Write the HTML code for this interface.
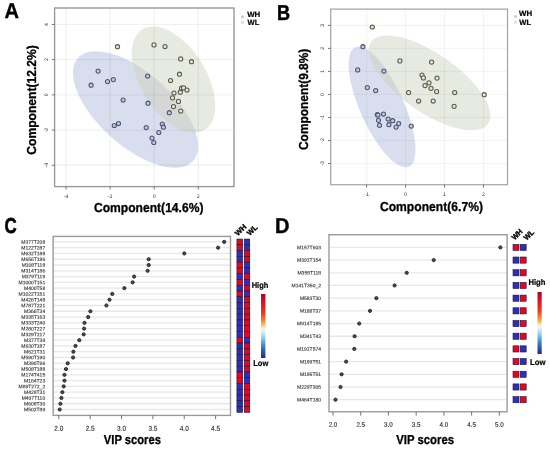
<!DOCTYPE html>
<html><head><meta charset="utf-8"><style>
html,body{margin:0;padding:0;background:#fff;}
body{width:550px;height:449px;overflow:hidden;}
svg{display:block;will-change:transform;filter:blur(0.3px);text-rendering:geometricPrecision;font-family:"Liberation Sans", sans-serif;}
</style></head><body>
<svg width="550" height="449" viewBox="0 0 550 449">
<rect width="550" height="449" fill="#fff"/>
<text transform="translate(4.4 17.9) scale(0.93 1)" font-size="21.6" font-weight="bold" fill="#000" stroke="#000" stroke-width="0.35">A</text>
<text transform="translate(276.9 19.9) scale(0.84 1)" font-size="21.6" font-weight="bold" fill="#000" stroke="#000" stroke-width="0.5">B</text>
<text transform="translate(4.5 232.7) scale(0.78 1)" font-size="21.6" font-weight="bold" fill="#000" stroke="#000" stroke-width="0.75">C</text>
<text transform="translate(275.0 232.7) scale(0.93 1)" font-size="21.6" font-weight="bold" fill="#000" stroke="#000" stroke-width="0.4">D</text>
<clipPath id="clip54"><ellipse cx="135.49" cy="109.49" rx="77.19" ry="36.74" transform="rotate(41.77 135.49 109.49)"/></clipPath>
<ellipse cx="135.49" cy="109.49" rx="77.19" ry="36.74" transform="rotate(41.77 135.49 109.49)" fill="rgb(217,222,239)"/>
<ellipse cx="173.45" cy="79.69" rx="59.1" ry="32.97" transform="rotate(58.49 173.45 79.69)" fill="rgb(231,234,225)"/>
<g clip-path="url(#clip54)"><ellipse cx="173.45" cy="79.69" rx="59.1" ry="32.97" transform="rotate(58.49 173.45 79.69)" fill="rgb(212,215,214)"/></g>
<line x1="66.08" y1="8.0" x2="66.08" y2="186.6" stroke="rgba(0,0,0,0.05)" stroke-width="1.3"/>
<line x1="110.14" y1="8.0" x2="110.14" y2="186.6" stroke="rgba(0,0,0,0.05)" stroke-width="1.3"/>
<line x1="154.20" y1="8.0" x2="154.20" y2="186.6" stroke="rgba(0,0,0,0.05)" stroke-width="1.3"/>
<line x1="198.26" y1="8.0" x2="198.26" y2="186.6" stroke="rgba(0,0,0,0.05)" stroke-width="1.3"/>
<line x1="54.6" y1="24.45" x2="234.0" y2="24.45" stroke="rgba(0,0,0,0.05)" stroke-width="1.3"/>
<line x1="54.6" y1="59.65" x2="234.0" y2="59.65" stroke="rgba(0,0,0,0.05)" stroke-width="1.3"/>
<line x1="54.6" y1="94.85" x2="234.0" y2="94.85" stroke="rgba(0,0,0,0.05)" stroke-width="1.3"/>
<line x1="54.6" y1="130.05" x2="234.0" y2="130.05" stroke="rgba(0,0,0,0.05)" stroke-width="1.3"/>
<line x1="54.6" y1="165.25" x2="234.0" y2="165.25" stroke="rgba(0,0,0,0.05)" stroke-width="1.3"/>
<circle cx="98.1" cy="71.1" r="3.0" fill="#fff" fill-opacity="0.35" filter="url(#soft)"/>
<circle cx="91.1" cy="85.2" r="3.0" fill="#fff" fill-opacity="0.35" filter="url(#soft)"/>
<circle cx="107.5" cy="81.6" r="3.0" fill="#fff" fill-opacity="0.35" filter="url(#soft)"/>
<circle cx="113.3" cy="79.6" r="3.0" fill="#fff" fill-opacity="0.35" filter="url(#soft)"/>
<circle cx="123.1" cy="100.0" r="3.0" fill="#fff" fill-opacity="0.35" filter="url(#soft)"/>
<circle cx="114.3" cy="125.5" r="3.0" fill="#fff" fill-opacity="0.35" filter="url(#soft)"/>
<circle cx="118.5" cy="123.5" r="3.0" fill="#fff" fill-opacity="0.35" filter="url(#soft)"/>
<circle cx="147.6" cy="76.1" r="3.0" fill="#fff" fill-opacity="0.35" filter="url(#soft)"/>
<circle cx="148.0" cy="103.2" r="3.0" fill="#fff" fill-opacity="0.35" filter="url(#soft)"/>
<circle cx="169.3" cy="112.7" r="3.0" fill="#fff" fill-opacity="0.35" filter="url(#soft)"/>
<circle cx="146.2" cy="127.5" r="3.0" fill="#fff" fill-opacity="0.35" filter="url(#soft)"/>
<circle cx="162.3" cy="124.0" r="3.0" fill="#fff" fill-opacity="0.35" filter="url(#soft)"/>
<circle cx="163.4" cy="127.2" r="3.0" fill="#fff" fill-opacity="0.35" filter="url(#soft)"/>
<circle cx="158.8" cy="132.5" r="3.0" fill="#fff" fill-opacity="0.35" filter="url(#soft)"/>
<circle cx="152.0" cy="138.1" r="3.0" fill="#fff" fill-opacity="0.35" filter="url(#soft)"/>
<circle cx="153.8" cy="142.5" r="3.0" fill="#fff" fill-opacity="0.35" filter="url(#soft)"/>
<circle cx="117.5" cy="46.7" r="3.0" fill="#fff" fill-opacity="0.35" filter="url(#soft)"/>
<circle cx="154.0" cy="44.9" r="3.0" fill="#fff" fill-opacity="0.35" filter="url(#soft)"/>
<circle cx="165.0" cy="46.5" r="3.0" fill="#fff" fill-opacity="0.35" filter="url(#soft)"/>
<circle cx="180.7" cy="58.9" r="3.0" fill="#fff" fill-opacity="0.35" filter="url(#soft)"/>
<circle cx="191.5" cy="61.7" r="3.0" fill="#fff" fill-opacity="0.35" filter="url(#soft)"/>
<circle cx="179.5" cy="74.2" r="3.0" fill="#fff" fill-opacity="0.35" filter="url(#soft)"/>
<circle cx="170.6" cy="80.5" r="3.0" fill="#fff" fill-opacity="0.35" filter="url(#soft)"/>
<circle cx="181.5" cy="88.2" r="3.0" fill="#fff" fill-opacity="0.35" filter="url(#soft)"/>
<circle cx="183.6" cy="87.9" r="3.0" fill="#fff" fill-opacity="0.35" filter="url(#soft)"/>
<circle cx="187.0" cy="90.0" r="3.0" fill="#fff" fill-opacity="0.35" filter="url(#soft)"/>
<circle cx="180.3" cy="92.2" r="3.0" fill="#fff" fill-opacity="0.35" filter="url(#soft)"/>
<circle cx="174.0" cy="93.0" r="3.0" fill="#fff" fill-opacity="0.35" filter="url(#soft)"/>
<circle cx="172.5" cy="97.8" r="3.0" fill="#fff" fill-opacity="0.35" filter="url(#soft)"/>
<circle cx="178.5" cy="101.4" r="3.0" fill="#fff" fill-opacity="0.35" filter="url(#soft)"/>
<circle cx="173.5" cy="106.6" r="3.0" fill="#fff" fill-opacity="0.35" filter="url(#soft)"/>
<circle cx="180.7" cy="111.0" r="3.0" fill="#fff" fill-opacity="0.35" filter="url(#soft)"/>
<g filter="url(#soft)">
<circle cx="98.1" cy="71.1" r="2.1" fill="#c0c7e2" stroke="#4c5472" stroke-width="1.05"/>
<circle cx="91.1" cy="85.2" r="2.1" fill="#c0c7e2" stroke="#4c5472" stroke-width="1.05"/>
<circle cx="107.5" cy="81.6" r="2.1" fill="#c0c7e2" stroke="#4c5472" stroke-width="1.05"/>
<circle cx="113.3" cy="79.6" r="2.1" fill="#c0c7e2" stroke="#4c5472" stroke-width="1.05"/>
<circle cx="123.1" cy="100.0" r="2.1" fill="#c0c7e2" stroke="#4c5472" stroke-width="1.05"/>
<circle cx="114.3" cy="125.5" r="2.1" fill="#c0c7e2" stroke="#4c5472" stroke-width="1.05"/>
<circle cx="118.5" cy="123.5" r="2.1" fill="#c0c7e2" stroke="#4c5472" stroke-width="1.05"/>
<circle cx="147.6" cy="76.1" r="2.1" fill="#c0c7e2" stroke="#4c5472" stroke-width="1.05"/>
<circle cx="148.0" cy="103.2" r="2.1" fill="#c0c7e2" stroke="#4c5472" stroke-width="1.05"/>
<circle cx="169.3" cy="112.7" r="2.1" fill="#c0c7e2" stroke="#4c5472" stroke-width="1.05"/>
<circle cx="146.2" cy="127.5" r="2.1" fill="#c0c7e2" stroke="#4c5472" stroke-width="1.05"/>
<circle cx="162.3" cy="124.0" r="2.1" fill="#c0c7e2" stroke="#4c5472" stroke-width="1.05"/>
<circle cx="163.4" cy="127.2" r="2.1" fill="#c0c7e2" stroke="#4c5472" stroke-width="1.05"/>
<circle cx="158.8" cy="132.5" r="2.1" fill="#c0c7e2" stroke="#4c5472" stroke-width="1.05"/>
<circle cx="152.0" cy="138.1" r="2.1" fill="#c0c7e2" stroke="#4c5472" stroke-width="1.05"/>
<circle cx="153.8" cy="142.5" r="2.1" fill="#c0c7e2" stroke="#4c5472" stroke-width="1.05"/>
<circle cx="117.5" cy="46.7" r="2.1" fill="#e4e7d6" stroke="#5a5a46" stroke-width="1.05"/>
<circle cx="154.0" cy="44.9" r="2.1" fill="#e4e7d6" stroke="#5a5a46" stroke-width="1.05"/>
<circle cx="165.0" cy="46.5" r="2.1" fill="#e4e7d6" stroke="#5a5a46" stroke-width="1.05"/>
<circle cx="180.7" cy="58.9" r="2.1" fill="#e4e7d6" stroke="#5a5a46" stroke-width="1.05"/>
<circle cx="191.5" cy="61.7" r="2.1" fill="#e4e7d6" stroke="#5a5a46" stroke-width="1.05"/>
<circle cx="179.5" cy="74.2" r="2.1" fill="#e4e7d6" stroke="#5a5a46" stroke-width="1.05"/>
<circle cx="170.6" cy="80.5" r="2.1" fill="#e4e7d6" stroke="#5a5a46" stroke-width="1.05"/>
<circle cx="181.5" cy="88.2" r="2.1" fill="#e4e7d6" stroke="#5a5a46" stroke-width="1.05"/>
<circle cx="183.6" cy="87.9" r="2.1" fill="#e4e7d6" stroke="#5a5a46" stroke-width="1.05"/>
<circle cx="187.0" cy="90.0" r="2.1" fill="#e4e7d6" stroke="#5a5a46" stroke-width="1.05"/>
<circle cx="180.3" cy="92.2" r="2.1" fill="#e4e7d6" stroke="#5a5a46" stroke-width="1.05"/>
<circle cx="174.0" cy="93.0" r="2.1" fill="#e4e7d6" stroke="#5a5a46" stroke-width="1.05"/>
<circle cx="172.5" cy="97.8" r="2.1" fill="#e4e7d6" stroke="#5a5a46" stroke-width="1.05"/>
<circle cx="178.5" cy="101.4" r="2.1" fill="#e4e7d6" stroke="#5a5a46" stroke-width="1.05"/>
<circle cx="173.5" cy="106.6" r="2.1" fill="#e4e7d6" stroke="#5a5a46" stroke-width="1.05"/>
<circle cx="180.7" cy="111.0" r="2.1" fill="#e4e7d6" stroke="#5a5a46" stroke-width="1.05"/>
</g>
<rect x="54.6" y="8.0" width="179.40" height="178.60" fill="none" stroke="#999" stroke-width="1.4"/>
<line x1="66.08" y1="186.6" x2="66.08" y2="189.6" stroke="#555" stroke-width="0.8"/>
<text x="66.08" y="197.70" font-size="5.2" font-weight="normal" text-anchor="middle" fill="#333">-4</text>
<line x1="110.14" y1="186.6" x2="110.14" y2="189.6" stroke="#555" stroke-width="0.8"/>
<text x="110.14" y="197.70" font-size="5.2" font-weight="normal" text-anchor="middle" fill="#333">-2</text>
<line x1="154.20" y1="186.6" x2="154.20" y2="189.6" stroke="#555" stroke-width="0.8"/>
<text x="154.20" y="197.70" font-size="5.2" font-weight="normal" text-anchor="middle" fill="#333">0</text>
<line x1="198.26" y1="186.6" x2="198.26" y2="189.6" stroke="#555" stroke-width="0.8"/>
<text x="198.26" y="197.70" font-size="5.2" font-weight="normal" text-anchor="middle" fill="#333">2</text>
<line x1="51.9" y1="24.45" x2="54.6" y2="24.45" stroke="#555" stroke-width="0.8"/>
<text x="48.40" y="24.45" font-size="5.2" font-weight="normal" text-anchor="middle" fill="#333" transform="rotate(-90 48.40 24.45)">4</text>
<line x1="51.9" y1="59.65" x2="54.6" y2="59.65" stroke="#555" stroke-width="0.8"/>
<text x="48.40" y="59.65" font-size="5.2" font-weight="normal" text-anchor="middle" fill="#333" transform="rotate(-90 48.40 59.65)">2</text>
<line x1="51.9" y1="94.85" x2="54.6" y2="94.85" stroke="#555" stroke-width="0.8"/>
<text x="48.40" y="94.85" font-size="5.2" font-weight="normal" text-anchor="middle" fill="#333" transform="rotate(-90 48.40 94.85)">0</text>
<line x1="51.9" y1="130.05" x2="54.6" y2="130.05" stroke="#555" stroke-width="0.8"/>
<text x="48.40" y="130.05" font-size="5.2" font-weight="normal" text-anchor="middle" fill="#333" transform="rotate(-90 48.40 130.05)">-2</text>
<line x1="51.9" y1="165.25" x2="54.6" y2="165.25" stroke="#555" stroke-width="0.8"/>
<text x="48.40" y="165.25" font-size="5.2" font-weight="normal" text-anchor="middle" fill="#333" transform="rotate(-90 48.40 165.25)">-4</text>
<circle cx="242.5" cy="16.8" r="1.5" fill="#bccde2"/>
<circle cx="242.5" cy="22.5" r="1.3" fill="#eeeee0" stroke="#cdcdae" stroke-width="0.6"/>
<text x="247.20" y="16.60" font-size="7.6" font-weight="bold" text-anchor="start" fill="#000" textLength="13.10" lengthAdjust="spacingAndGlyphs" stroke="#000" stroke-width="0.2">WH</text>
<text x="247.50" y="24.70" font-size="7.6" font-weight="bold" text-anchor="start" fill="#000" textLength="11.80" lengthAdjust="spacingAndGlyphs" stroke="#000" stroke-width="0.2">WL</text>
<text x="93.90" y="212.10" font-size="13.0" font-weight="bold" text-anchor="start" fill="#000" textLength="109.60" lengthAdjust="spacingAndGlyphs" stroke="#000" stroke-width="0.3">Component(14.6%)</text>
<text x="36.50" y="154.70" font-size="13.0" font-weight="bold" text-anchor="start" fill="#000" textLength="109.50" lengthAdjust="spacingAndGlyphs" transform="rotate(-90 36.50 154.70)" stroke="#000" stroke-width="0.3">Component(12.2%)</text>
<clipPath id="clip330"><ellipse cx="382.04" cy="106.93" rx="65.51" ry="21.95" transform="rotate(65.87 382.04 106.93)"/></clipPath>
<ellipse cx="382.04" cy="106.93" rx="65.51" ry="21.95" transform="rotate(65.87 382.04 106.93)" fill="rgb(217,222,239)"/>
<ellipse cx="429.46" cy="82.93" rx="71.47" ry="29.23" transform="rotate(34.94 429.46 82.93)" fill="rgb(231,234,225)"/>
<g clip-path="url(#clip330)"><ellipse cx="429.46" cy="82.93" rx="71.47" ry="29.23" transform="rotate(34.94 429.46 82.93)" fill="rgb(212,215,214)"/></g>
<line x1="366.58" y1="9.1" x2="366.58" y2="184.7" stroke="rgba(0,0,0,0.04)" stroke-width="1.3"/>
<line x1="405.55" y1="9.1" x2="405.55" y2="184.7" stroke="rgba(0,0,0,0.04)" stroke-width="1.3"/>
<line x1="444.52" y1="9.1" x2="444.52" y2="184.7" stroke="rgba(0,0,0,0.04)" stroke-width="1.3"/>
<line x1="483.49" y1="9.1" x2="483.49" y2="184.7" stroke="rgba(0,0,0,0.04)" stroke-width="1.3"/>
<line x1="330.7" y1="25.39" x2="507.5" y2="25.39" stroke="rgba(0,0,0,0.04)" stroke-width="1.3"/>
<line x1="330.7" y1="48.41" x2="507.5" y2="48.41" stroke="rgba(0,0,0,0.04)" stroke-width="1.3"/>
<line x1="330.7" y1="71.43" x2="507.5" y2="71.43" stroke="rgba(0,0,0,0.04)" stroke-width="1.3"/>
<line x1="330.7" y1="94.45" x2="507.5" y2="94.45" stroke="rgba(0,0,0,0.04)" stroke-width="1.3"/>
<line x1="330.7" y1="117.47" x2="507.5" y2="117.47" stroke="rgba(0,0,0,0.04)" stroke-width="1.3"/>
<line x1="330.7" y1="140.49" x2="507.5" y2="140.49" stroke="rgba(0,0,0,0.04)" stroke-width="1.3"/>
<line x1="330.7" y1="163.51" x2="507.5" y2="163.51" stroke="rgba(0,0,0,0.04)" stroke-width="1.3"/>
<circle cx="362.9" cy="46.7" r="3.0" fill="#fff" fill-opacity="0.35" filter="url(#soft)"/>
<circle cx="357.7" cy="69.9" r="3.0" fill="#fff" fill-opacity="0.35" filter="url(#soft)"/>
<circle cx="383.9" cy="71.1" r="3.0" fill="#fff" fill-opacity="0.35" filter="url(#soft)"/>
<circle cx="367.3" cy="87.6" r="3.0" fill="#fff" fill-opacity="0.35" filter="url(#soft)"/>
<circle cx="375.7" cy="90.6" r="3.0" fill="#fff" fill-opacity="0.35" filter="url(#soft)"/>
<circle cx="377.3" cy="114.6" r="3.0" fill="#fff" fill-opacity="0.35" filter="url(#soft)"/>
<circle cx="377.9" cy="115.0" r="3.0" fill="#fff" fill-opacity="0.35" filter="url(#soft)"/>
<circle cx="383.5" cy="114.0" r="3.0" fill="#fff" fill-opacity="0.35" filter="url(#soft)"/>
<circle cx="378.5" cy="120.3" r="3.0" fill="#fff" fill-opacity="0.35" filter="url(#soft)"/>
<circle cx="388.1" cy="119.0" r="3.0" fill="#fff" fill-opacity="0.35" filter="url(#soft)"/>
<circle cx="392.7" cy="120.7" r="3.0" fill="#fff" fill-opacity="0.35" filter="url(#soft)"/>
<circle cx="379.5" cy="125.3" r="3.0" fill="#fff" fill-opacity="0.35" filter="url(#soft)"/>
<circle cx="388.9" cy="124.7" r="3.0" fill="#fff" fill-opacity="0.35" filter="url(#soft)"/>
<circle cx="398.7" cy="123.5" r="3.0" fill="#fff" fill-opacity="0.35" filter="url(#soft)"/>
<circle cx="396.1" cy="127.1" r="3.0" fill="#fff" fill-opacity="0.35" filter="url(#soft)"/>
<circle cx="411.2" cy="126.1" r="3.0" fill="#fff" fill-opacity="0.35" filter="url(#soft)"/>
<circle cx="372.3" cy="27.0" r="3.0" fill="#fff" fill-opacity="0.35" filter="url(#soft)"/>
<circle cx="399.9" cy="60.9" r="3.0" fill="#fff" fill-opacity="0.35" filter="url(#soft)"/>
<circle cx="431.6" cy="62.1" r="3.0" fill="#fff" fill-opacity="0.35" filter="url(#soft)"/>
<circle cx="422.0" cy="75.1" r="3.0" fill="#fff" fill-opacity="0.35" filter="url(#soft)"/>
<circle cx="423.4" cy="77.9" r="3.0" fill="#fff" fill-opacity="0.35" filter="url(#soft)"/>
<circle cx="437.0" cy="78.1" r="3.0" fill="#fff" fill-opacity="0.35" filter="url(#soft)"/>
<circle cx="429.0" cy="82.8" r="3.0" fill="#fff" fill-opacity="0.35" filter="url(#soft)"/>
<circle cx="425.0" cy="85.6" r="3.0" fill="#fff" fill-opacity="0.35" filter="url(#soft)"/>
<circle cx="431.0" cy="88.3" r="3.0" fill="#fff" fill-opacity="0.35" filter="url(#soft)"/>
<circle cx="436.6" cy="91.6" r="3.0" fill="#fff" fill-opacity="0.35" filter="url(#soft)"/>
<circle cx="408.6" cy="92.6" r="3.0" fill="#fff" fill-opacity="0.35" filter="url(#soft)"/>
<circle cx="454.7" cy="92.6" r="3.0" fill="#fff" fill-opacity="0.35" filter="url(#soft)"/>
<circle cx="484.2" cy="94.7" r="3.0" fill="#fff" fill-opacity="0.35" filter="url(#soft)"/>
<circle cx="418.6" cy="101.0" r="3.0" fill="#fff" fill-opacity="0.35" filter="url(#soft)"/>
<circle cx="433.2" cy="101.0" r="3.0" fill="#fff" fill-opacity="0.35" filter="url(#soft)"/>
<circle cx="454.1" cy="106.3" r="3.0" fill="#fff" fill-opacity="0.35" filter="url(#soft)"/>
<g filter="url(#soft)">
<circle cx="362.9" cy="46.7" r="2.1" fill="#c0c7e2" stroke="#4c5472" stroke-width="1.05"/>
<circle cx="357.7" cy="69.9" r="2.1" fill="#c0c7e2" stroke="#4c5472" stroke-width="1.05"/>
<circle cx="383.9" cy="71.1" r="2.1" fill="#c0c7e2" stroke="#4c5472" stroke-width="1.05"/>
<circle cx="367.3" cy="87.6" r="2.1" fill="#c0c7e2" stroke="#4c5472" stroke-width="1.05"/>
<circle cx="375.7" cy="90.6" r="2.1" fill="#c0c7e2" stroke="#4c5472" stroke-width="1.05"/>
<circle cx="377.3" cy="114.6" r="2.1" fill="#c0c7e2" stroke="#4c5472" stroke-width="1.05"/>
<circle cx="377.9" cy="115.0" r="2.1" fill="#c0c7e2" stroke="#4c5472" stroke-width="1.05"/>
<circle cx="383.5" cy="114.0" r="2.1" fill="#c0c7e2" stroke="#4c5472" stroke-width="1.05"/>
<circle cx="378.5" cy="120.3" r="2.1" fill="#c0c7e2" stroke="#4c5472" stroke-width="1.05"/>
<circle cx="388.1" cy="119.0" r="2.1" fill="#c0c7e2" stroke="#4c5472" stroke-width="1.05"/>
<circle cx="392.7" cy="120.7" r="2.1" fill="#c0c7e2" stroke="#4c5472" stroke-width="1.05"/>
<circle cx="379.5" cy="125.3" r="2.1" fill="#c0c7e2" stroke="#4c5472" stroke-width="1.05"/>
<circle cx="388.9" cy="124.7" r="2.1" fill="#c0c7e2" stroke="#4c5472" stroke-width="1.05"/>
<circle cx="398.7" cy="123.5" r="2.1" fill="#c0c7e2" stroke="#4c5472" stroke-width="1.05"/>
<circle cx="396.1" cy="127.1" r="2.1" fill="#c0c7e2" stroke="#4c5472" stroke-width="1.05"/>
<circle cx="411.2" cy="126.1" r="2.1" fill="#c0c7e2" stroke="#4c5472" stroke-width="1.05"/>
<circle cx="372.3" cy="27.0" r="2.1" fill="#e4e7d6" stroke="#5a5a46" stroke-width="1.05"/>
<circle cx="399.9" cy="60.9" r="2.1" fill="#e4e7d6" stroke="#5a5a46" stroke-width="1.05"/>
<circle cx="431.6" cy="62.1" r="2.1" fill="#e4e7d6" stroke="#5a5a46" stroke-width="1.05"/>
<circle cx="422.0" cy="75.1" r="2.1" fill="#e4e7d6" stroke="#5a5a46" stroke-width="1.05"/>
<circle cx="423.4" cy="77.9" r="2.1" fill="#e4e7d6" stroke="#5a5a46" stroke-width="1.05"/>
<circle cx="437.0" cy="78.1" r="2.1" fill="#e4e7d6" stroke="#5a5a46" stroke-width="1.05"/>
<circle cx="429.0" cy="82.8" r="2.1" fill="#e4e7d6" stroke="#5a5a46" stroke-width="1.05"/>
<circle cx="425.0" cy="85.6" r="2.1" fill="#e4e7d6" stroke="#5a5a46" stroke-width="1.05"/>
<circle cx="431.0" cy="88.3" r="2.1" fill="#e4e7d6" stroke="#5a5a46" stroke-width="1.05"/>
<circle cx="436.6" cy="91.6" r="2.1" fill="#e4e7d6" stroke="#5a5a46" stroke-width="1.05"/>
<circle cx="408.6" cy="92.6" r="2.1" fill="#e4e7d6" stroke="#5a5a46" stroke-width="1.05"/>
<circle cx="454.7" cy="92.6" r="2.1" fill="#e4e7d6" stroke="#5a5a46" stroke-width="1.05"/>
<circle cx="484.2" cy="94.7" r="2.1" fill="#e4e7d6" stroke="#5a5a46" stroke-width="1.05"/>
<circle cx="418.6" cy="101.0" r="2.1" fill="#e4e7d6" stroke="#5a5a46" stroke-width="1.05"/>
<circle cx="433.2" cy="101.0" r="2.1" fill="#e4e7d6" stroke="#5a5a46" stroke-width="1.05"/>
<circle cx="454.1" cy="106.3" r="2.1" fill="#e4e7d6" stroke="#5a5a46" stroke-width="1.05"/>
</g>
<rect x="330.7" y="9.1" width="176.80" height="175.60" fill="none" stroke="#a6a6a6" stroke-width="1.25"/>
<line x1="366.58" y1="184.7" x2="366.58" y2="187.7" stroke="#555" stroke-width="0.8"/>
<text x="366.58" y="195.80" font-size="5.2" font-weight="normal" text-anchor="middle" fill="#333">-1</text>
<line x1="405.55" y1="184.7" x2="405.55" y2="187.7" stroke="#555" stroke-width="0.8"/>
<text x="405.55" y="195.80" font-size="5.2" font-weight="normal" text-anchor="middle" fill="#333">0</text>
<line x1="444.52" y1="184.7" x2="444.52" y2="187.7" stroke="#555" stroke-width="0.8"/>
<text x="444.52" y="195.80" font-size="5.2" font-weight="normal" text-anchor="middle" fill="#333">1</text>
<line x1="483.49" y1="184.7" x2="483.49" y2="187.7" stroke="#555" stroke-width="0.8"/>
<text x="483.49" y="195.80" font-size="5.2" font-weight="normal" text-anchor="middle" fill="#333">2</text>
<line x1="328.0" y1="25.39" x2="330.7" y2="25.39" stroke="#555" stroke-width="0.8"/>
<text x="324.40" y="25.39" font-size="5.2" font-weight="normal" text-anchor="middle" fill="#333" transform="rotate(-90 324.40 25.39)">3</text>
<line x1="328.0" y1="48.41" x2="330.7" y2="48.41" stroke="#555" stroke-width="0.8"/>
<text x="324.40" y="48.41" font-size="5.2" font-weight="normal" text-anchor="middle" fill="#333" transform="rotate(-90 324.40 48.41)">2</text>
<line x1="328.0" y1="71.43" x2="330.7" y2="71.43" stroke="#555" stroke-width="0.8"/>
<text x="324.40" y="71.43" font-size="5.2" font-weight="normal" text-anchor="middle" fill="#333" transform="rotate(-90 324.40 71.43)">1</text>
<line x1="328.0" y1="94.45" x2="330.7" y2="94.45" stroke="#555" stroke-width="0.8"/>
<text x="324.40" y="94.45" font-size="5.2" font-weight="normal" text-anchor="middle" fill="#333" transform="rotate(-90 324.40 94.45)">0</text>
<line x1="328.0" y1="117.47" x2="330.7" y2="117.47" stroke="#555" stroke-width="0.8"/>
<text x="324.40" y="117.47" font-size="5.2" font-weight="normal" text-anchor="middle" fill="#333" transform="rotate(-90 324.40 117.47)">-1</text>
<line x1="328.0" y1="140.49" x2="330.7" y2="140.49" stroke="#555" stroke-width="0.8"/>
<text x="324.40" y="140.49" font-size="5.2" font-weight="normal" text-anchor="middle" fill="#333" transform="rotate(-90 324.40 140.49)">-2</text>
<line x1="328.0" y1="163.51" x2="330.7" y2="163.51" stroke="#555" stroke-width="0.8"/>
<text x="324.40" y="163.51" font-size="5.2" font-weight="normal" text-anchor="middle" fill="#333" transform="rotate(-90 324.40 163.51)">-3</text>
<circle cx="515.6" cy="16.599999999999998" r="1.5" fill="#c8c8ea"/>
<circle cx="515.6" cy="22.299999999999997" r="1.3" fill="#eeeee0" stroke="#d0d2b4" stroke-width="0.6"/>
<text x="519.00" y="16.40" font-size="7.6" font-weight="bold" text-anchor="start" fill="#000" textLength="13.10" lengthAdjust="spacingAndGlyphs" stroke="#000" stroke-width="0.2">WH</text>
<text x="519.30" y="24.50" font-size="7.6" font-weight="bold" text-anchor="start" fill="#000" textLength="11.80" lengthAdjust="spacingAndGlyphs" stroke="#000" stroke-width="0.2">WL</text>
<text x="379.90" y="211.30" font-size="13.0" font-weight="bold" text-anchor="start" fill="#000" textLength="103.10" lengthAdjust="spacingAndGlyphs" stroke="#000" stroke-width="0.3">Component(6.7%)</text>
<text x="308.40" y="150.00" font-size="13.0" font-weight="bold" text-anchor="start" fill="#000" textLength="101.30" lengthAdjust="spacingAndGlyphs" transform="rotate(-90 308.40 150.00)" stroke="#000" stroke-width="0.3">Component(9.8%)</text>
<defs><filter id="soft" x="-20%" y="-20%" width="140%" height="140%"><feGaussianBlur stdDeviation="0.3"/></filter><linearGradient id="cbgrad" x1="0" y1="0" x2="0" y2="1"><stop offset="0" stop-color="#b0001f"/><stop offset="0.12" stop-color="#d8102a"/><stop offset="0.30" stop-color="#ee3a22"/><stop offset="0.40" stop-color="#f47a30"/><stop offset="0.47" stop-color="#f8b450"/><stop offset="0.52" stop-color="#fbe6a0"/><stop offset="0.56" stop-color="#f4f8f0"/><stop offset="0.61" stop-color="#c8e8f2"/><stop offset="0.68" stop-color="#98d0ea"/><stop offset="0.76" stop-color="#5aa4d8"/><stop offset="0.86" stop-color="#2c6cbc"/><stop offset="1" stop-color="#1c2a88"/></linearGradient></defs>
<line x1="53.15" y1="241.90" x2="230.5" y2="241.90" stroke="#e8e8e8" stroke-width="1.3"/>
<line x1="53.15" y1="247.68" x2="230.5" y2="247.68" stroke="#e8e8e8" stroke-width="1.3"/>
<line x1="53.15" y1="253.46" x2="230.5" y2="253.46" stroke="#e8e8e8" stroke-width="1.3"/>
<line x1="53.15" y1="259.24" x2="230.5" y2="259.24" stroke="#e8e8e8" stroke-width="1.3"/>
<line x1="53.15" y1="265.02" x2="230.5" y2="265.02" stroke="#e8e8e8" stroke-width="1.3"/>
<line x1="53.15" y1="270.80" x2="230.5" y2="270.80" stroke="#e8e8e8" stroke-width="1.3"/>
<line x1="53.15" y1="276.58" x2="230.5" y2="276.58" stroke="#e8e8e8" stroke-width="1.3"/>
<line x1="53.15" y1="282.36" x2="230.5" y2="282.36" stroke="#e8e8e8" stroke-width="1.3"/>
<line x1="53.15" y1="288.14" x2="230.5" y2="288.14" stroke="#e8e8e8" stroke-width="1.3"/>
<line x1="53.15" y1="293.92" x2="230.5" y2="293.92" stroke="#e8e8e8" stroke-width="1.3"/>
<line x1="53.15" y1="299.70" x2="230.5" y2="299.70" stroke="#e8e8e8" stroke-width="1.3"/>
<line x1="53.15" y1="305.48" x2="230.5" y2="305.48" stroke="#e8e8e8" stroke-width="1.3"/>
<line x1="53.15" y1="311.26" x2="230.5" y2="311.26" stroke="#e8e8e8" stroke-width="1.3"/>
<line x1="53.15" y1="317.04" x2="230.5" y2="317.04" stroke="#e8e8e8" stroke-width="1.3"/>
<line x1="53.15" y1="322.82" x2="230.5" y2="322.82" stroke="#e8e8e8" stroke-width="1.3"/>
<line x1="53.15" y1="328.60" x2="230.5" y2="328.60" stroke="#e8e8e8" stroke-width="1.3"/>
<line x1="53.15" y1="334.38" x2="230.5" y2="334.38" stroke="#e8e8e8" stroke-width="1.3"/>
<line x1="53.15" y1="340.16" x2="230.5" y2="340.16" stroke="#e8e8e8" stroke-width="1.3"/>
<line x1="53.15" y1="345.94" x2="230.5" y2="345.94" stroke="#e8e8e8" stroke-width="1.3"/>
<line x1="53.15" y1="351.72" x2="230.5" y2="351.72" stroke="#e8e8e8" stroke-width="1.3"/>
<line x1="53.15" y1="357.50" x2="230.5" y2="357.50" stroke="#e8e8e8" stroke-width="1.3"/>
<line x1="53.15" y1="363.28" x2="230.5" y2="363.28" stroke="#e8e8e8" stroke-width="1.3"/>
<line x1="53.15" y1="369.06" x2="230.5" y2="369.06" stroke="#e8e8e8" stroke-width="1.3"/>
<line x1="53.15" y1="374.84" x2="230.5" y2="374.84" stroke="#e8e8e8" stroke-width="1.3"/>
<line x1="53.15" y1="380.62" x2="230.5" y2="380.62" stroke="#e8e8e8" stroke-width="1.3"/>
<line x1="53.15" y1="386.40" x2="230.5" y2="386.40" stroke="#e8e8e8" stroke-width="1.3"/>
<line x1="53.15" y1="392.18" x2="230.5" y2="392.18" stroke="#e8e8e8" stroke-width="1.3"/>
<line x1="53.15" y1="397.96" x2="230.5" y2="397.96" stroke="#e8e8e8" stroke-width="1.3"/>
<line x1="53.15" y1="403.74" x2="230.5" y2="403.74" stroke="#e8e8e8" stroke-width="1.3"/>
<line x1="53.15" y1="409.52" x2="230.5" y2="409.52" stroke="#e8e8e8" stroke-width="1.3"/>
<circle cx="224.20" cy="241.90" r="1.6" fill="#4a4a4a" stroke="#222" stroke-width="0.9" filter="url(#soft)"/>
<circle cx="218.10" cy="247.68" r="1.6" fill="#4a4a4a" stroke="#222" stroke-width="0.9" filter="url(#soft)"/>
<circle cx="184.30" cy="253.46" r="1.6" fill="#4a4a4a" stroke="#222" stroke-width="0.9" filter="url(#soft)"/>
<circle cx="148.70" cy="259.24" r="1.6" fill="#4a4a4a" stroke="#222" stroke-width="0.9" filter="url(#soft)"/>
<circle cx="148.70" cy="265.02" r="1.6" fill="#4a4a4a" stroke="#222" stroke-width="0.9" filter="url(#soft)"/>
<circle cx="147.60" cy="270.80" r="1.6" fill="#4a4a4a" stroke="#222" stroke-width="0.9" filter="url(#soft)"/>
<circle cx="134.10" cy="276.58" r="1.6" fill="#4a4a4a" stroke="#222" stroke-width="0.9" filter="url(#soft)"/>
<circle cx="132.60" cy="282.36" r="1.6" fill="#4a4a4a" stroke="#222" stroke-width="0.9" filter="url(#soft)"/>
<circle cx="124.40" cy="288.14" r="1.6" fill="#4a4a4a" stroke="#222" stroke-width="0.9" filter="url(#soft)"/>
<circle cx="112.30" cy="293.92" r="1.6" fill="#4a4a4a" stroke="#222" stroke-width="0.9" filter="url(#soft)"/>
<circle cx="109.50" cy="299.70" r="1.6" fill="#4a4a4a" stroke="#222" stroke-width="0.9" filter="url(#soft)"/>
<circle cx="106.40" cy="305.48" r="1.6" fill="#4a4a4a" stroke="#222" stroke-width="0.9" filter="url(#soft)"/>
<circle cx="90.40" cy="311.26" r="1.6" fill="#4a4a4a" stroke="#222" stroke-width="0.9" filter="url(#soft)"/>
<circle cx="88.20" cy="317.04" r="1.6" fill="#4a4a4a" stroke="#222" stroke-width="0.9" filter="url(#soft)"/>
<circle cx="84.50" cy="322.82" r="1.6" fill="#4a4a4a" stroke="#222" stroke-width="0.9" filter="url(#soft)"/>
<circle cx="84.10" cy="328.60" r="1.6" fill="#4a4a4a" stroke="#222" stroke-width="0.9" filter="url(#soft)"/>
<circle cx="83.70" cy="334.38" r="1.6" fill="#4a4a4a" stroke="#222" stroke-width="0.9" filter="url(#soft)"/>
<circle cx="79.30" cy="340.16" r="1.6" fill="#4a4a4a" stroke="#222" stroke-width="0.9" filter="url(#soft)"/>
<circle cx="75.50" cy="345.94" r="1.6" fill="#4a4a4a" stroke="#222" stroke-width="0.9" filter="url(#soft)"/>
<circle cx="73.40" cy="351.72" r="1.6" fill="#4a4a4a" stroke="#222" stroke-width="0.9" filter="url(#soft)"/>
<circle cx="73.10" cy="357.50" r="1.6" fill="#4a4a4a" stroke="#222" stroke-width="0.9" filter="url(#soft)"/>
<circle cx="67.70" cy="363.28" r="1.6" fill="#4a4a4a" stroke="#222" stroke-width="0.9" filter="url(#soft)"/>
<circle cx="66.00" cy="369.06" r="1.6" fill="#4a4a4a" stroke="#222" stroke-width="0.9" filter="url(#soft)"/>
<circle cx="64.50" cy="374.84" r="1.6" fill="#4a4a4a" stroke="#222" stroke-width="0.9" filter="url(#soft)"/>
<circle cx="64.50" cy="380.62" r="1.6" fill="#4a4a4a" stroke="#222" stroke-width="0.9" filter="url(#soft)"/>
<circle cx="63.70" cy="386.40" r="1.6" fill="#4a4a4a" stroke="#222" stroke-width="0.9" filter="url(#soft)"/>
<circle cx="62.40" cy="392.18" r="1.6" fill="#4a4a4a" stroke="#222" stroke-width="0.9" filter="url(#soft)"/>
<circle cx="61.40" cy="397.96" r="1.6" fill="#4a4a4a" stroke="#222" stroke-width="0.9" filter="url(#soft)"/>
<circle cx="60.40" cy="403.74" r="1.6" fill="#4a4a4a" stroke="#222" stroke-width="0.9" filter="url(#soft)"/>
<circle cx="59.70" cy="409.52" r="1.6" fill="#4a4a4a" stroke="#222" stroke-width="0.9" filter="url(#soft)"/>
<rect x="53.15" y="236.4" width="177.35" height="179.00" fill="none" stroke="#9a9a9a" stroke-width="1.4"/>
<line x1="58.80" y1="415.4" x2="58.80" y2="419.2" stroke="#666" stroke-width="0.9"/>
<text x="54.30" y="430.70" font-size="7.0" font-weight="normal" text-anchor="start" fill="#333" textLength="9.00" lengthAdjust="spacingAndGlyphs" transform="rotate(0.05 54.30 430.70)" stroke="#333" stroke-width="0.15">2.0</text>
<line x1="90.16" y1="415.4" x2="90.16" y2="419.2" stroke="#666" stroke-width="0.9"/>
<text x="85.66" y="430.70" font-size="7.0" font-weight="normal" text-anchor="start" fill="#333" textLength="9.00" lengthAdjust="spacingAndGlyphs" transform="rotate(0.05 85.66 430.70)" stroke="#333" stroke-width="0.15">2.5</text>
<line x1="121.52" y1="415.4" x2="121.52" y2="419.2" stroke="#666" stroke-width="0.9"/>
<text x="117.02" y="430.70" font-size="7.0" font-weight="normal" text-anchor="start" fill="#333" textLength="9.00" lengthAdjust="spacingAndGlyphs" transform="rotate(0.05 117.02 430.70)" stroke="#333" stroke-width="0.15">3.0</text>
<line x1="152.88" y1="415.4" x2="152.88" y2="419.2" stroke="#666" stroke-width="0.9"/>
<text x="148.38" y="430.70" font-size="7.0" font-weight="normal" text-anchor="start" fill="#333" textLength="9.00" lengthAdjust="spacingAndGlyphs" transform="rotate(0.05 148.38 430.70)" stroke="#333" stroke-width="0.15">3.5</text>
<line x1="184.24" y1="415.4" x2="184.24" y2="419.2" stroke="#666" stroke-width="0.9"/>
<text x="179.74" y="430.70" font-size="7.0" font-weight="normal" text-anchor="start" fill="#333" textLength="9.00" lengthAdjust="spacingAndGlyphs" transform="rotate(0.05 179.74 430.70)" stroke="#333" stroke-width="0.15">4.0</text>
<line x1="215.60" y1="415.4" x2="215.60" y2="419.2" stroke="#666" stroke-width="0.9"/>
<text x="211.10" y="430.70" font-size="7.0" font-weight="normal" text-anchor="start" fill="#333" textLength="9.00" lengthAdjust="spacingAndGlyphs" transform="rotate(0.05 211.10 430.70)" stroke="#333" stroke-width="0.15">4.5</text>
<text x="45.20" y="243.70" font-size="5.0" font-weight="normal" text-anchor="end" fill="#333" transform="rotate(0.05 45.20 243.70)" stroke="#333" stroke-width="0.12">M377T208</text>
<text x="45.20" y="249.48" font-size="5.0" font-weight="normal" text-anchor="end" fill="#333" transform="rotate(0.05 45.20 249.48)" stroke="#333" stroke-width="0.12">M122T287</text>
<text x="45.20" y="255.26" font-size="5.0" font-weight="normal" text-anchor="end" fill="#333" transform="rotate(0.05 45.20 255.26)" stroke="#333" stroke-width="0.12">M632T188</text>
<text x="45.20" y="261.04" font-size="5.0" font-weight="normal" text-anchor="end" fill="#333" transform="rotate(0.05 45.20 261.04)" stroke="#333" stroke-width="0.12">M656T186</text>
<text x="45.20" y="266.82" font-size="5.0" font-weight="normal" text-anchor="end" fill="#333" transform="rotate(0.05 45.20 266.82)" stroke="#333" stroke-width="0.12">M108T118</text>
<text x="45.20" y="272.60" font-size="5.0" font-weight="normal" text-anchor="end" fill="#333" transform="rotate(0.05 45.20 272.60)" stroke="#333" stroke-width="0.12">M314T186</text>
<text x="45.20" y="278.38" font-size="5.0" font-weight="normal" text-anchor="end" fill="#333" transform="rotate(0.05 45.20 278.38)" stroke="#333" stroke-width="0.12">M379T119</text>
<text x="45.20" y="284.16" font-size="5.0" font-weight="normal" text-anchor="end" fill="#333" transform="rotate(0.05 45.20 284.16)" stroke="#333" stroke-width="0.12">M1000T151</text>
<text x="45.20" y="289.94" font-size="5.0" font-weight="normal" text-anchor="end" fill="#333" transform="rotate(0.05 45.20 289.94)" stroke="#333" stroke-width="0.12">M400T58</text>
<text x="45.20" y="295.72" font-size="5.0" font-weight="normal" text-anchor="end" fill="#333" transform="rotate(0.05 45.20 295.72)" stroke="#333" stroke-width="0.12">M1022T151</text>
<text x="45.20" y="301.50" font-size="5.0" font-weight="normal" text-anchor="end" fill="#333" transform="rotate(0.05 45.20 301.50)" stroke="#333" stroke-width="0.12">M426T148</text>
<text x="45.20" y="307.28" font-size="5.0" font-weight="normal" text-anchor="end" fill="#333" transform="rotate(0.05 45.20 307.28)" stroke="#333" stroke-width="0.12">M787T221</text>
<text x="45.20" y="313.06" font-size="5.0" font-weight="normal" text-anchor="end" fill="#333" transform="rotate(0.05 45.20 313.06)" stroke="#333" stroke-width="0.12">M366T34</text>
<text x="45.20" y="318.84" font-size="5.0" font-weight="normal" text-anchor="end" fill="#333" transform="rotate(0.05 45.20 318.84)" stroke="#333" stroke-width="0.12">M335T163</text>
<text x="45.20" y="324.62" font-size="5.0" font-weight="normal" text-anchor="end" fill="#333" transform="rotate(0.05 45.20 324.62)" stroke="#333" stroke-width="0.12">M333T240</text>
<text x="45.20" y="330.40" font-size="5.0" font-weight="normal" text-anchor="end" fill="#333" transform="rotate(0.05 45.20 330.40)" stroke="#333" stroke-width="0.12">M280T227</text>
<text x="45.20" y="336.18" font-size="5.0" font-weight="normal" text-anchor="end" fill="#333" transform="rotate(0.05 45.20 336.18)" stroke="#333" stroke-width="0.12">M329T217</text>
<text x="45.20" y="341.96" font-size="5.0" font-weight="normal" text-anchor="end" fill="#333" transform="rotate(0.05 45.20 341.96)" stroke="#333" stroke-width="0.12">M377T39</text>
<text x="45.20" y="347.74" font-size="5.0" font-weight="normal" text-anchor="end" fill="#333" transform="rotate(0.05 45.20 347.74)" stroke="#333" stroke-width="0.12">M630T187</text>
<text x="45.20" y="353.52" font-size="5.0" font-weight="normal" text-anchor="end" fill="#333" transform="rotate(0.05 45.20 353.52)" stroke="#333" stroke-width="0.12">M621T31</text>
<text x="45.20" y="359.30" font-size="5.0" font-weight="normal" text-anchor="end" fill="#333" transform="rotate(0.05 45.20 359.30)" stroke="#333" stroke-width="0.12">M590T190</text>
<text x="45.20" y="365.08" font-size="5.0" font-weight="normal" text-anchor="end" fill="#333" transform="rotate(0.05 45.20 365.08)" stroke="#333" stroke-width="0.12">M390T66</text>
<text x="45.20" y="370.86" font-size="5.0" font-weight="normal" text-anchor="end" fill="#333" transform="rotate(0.05 45.20 370.86)" stroke="#333" stroke-width="0.12">M508T188</text>
<text x="45.20" y="376.64" font-size="5.0" font-weight="normal" text-anchor="end" fill="#333" transform="rotate(0.05 45.20 376.64)" stroke="#333" stroke-width="0.12">M174T415</text>
<text x="45.20" y="382.42" font-size="5.0" font-weight="normal" text-anchor="end" fill="#333" transform="rotate(0.05 45.20 382.42)" stroke="#333" stroke-width="0.12">M164T23</text>
<text x="45.20" y="388.20" font-size="5.0" font-weight="normal" text-anchor="end" fill="#333" transform="rotate(0.05 45.20 388.20)" stroke="#333" stroke-width="0.12">M89T272_2</text>
<text x="45.20" y="393.98" font-size="5.0" font-weight="normal" text-anchor="end" fill="#333" transform="rotate(0.05 45.20 393.98)" stroke="#333" stroke-width="0.12">M429T31</text>
<text x="45.20" y="399.76" font-size="5.0" font-weight="normal" text-anchor="end" fill="#333" transform="rotate(0.05 45.20 399.76)" stroke="#333" stroke-width="0.12">M497T110</text>
<text x="45.20" y="405.54" font-size="5.0" font-weight="normal" text-anchor="end" fill="#333" transform="rotate(0.05 45.20 405.54)" stroke="#333" stroke-width="0.12">M608T30</text>
<text x="45.20" y="411.32" font-size="5.0" font-weight="normal" text-anchor="end" fill="#333" transform="rotate(0.05 45.20 411.32)" stroke="#333" stroke-width="0.12">M502T89</text>
<rect x="236.9" y="239.01" width="5.80" height="5.78" fill="#e3061f" stroke="#1a1038" stroke-width="0.55"/>
<rect x="244.2" y="239.01" width="5.60" height="5.78" fill="#2c30b8" stroke="#1a1038" stroke-width="0.55"/>
<rect x="236.9" y="244.79" width="5.80" height="5.78" fill="#e3061f" stroke="#1a1038" stroke-width="0.55"/>
<rect x="244.2" y="244.79" width="5.60" height="5.78" fill="#2c30b8" stroke="#1a1038" stroke-width="0.55"/>
<rect x="236.9" y="250.57" width="5.80" height="5.78" fill="#2c30b8" stroke="#1a1038" stroke-width="0.55"/>
<rect x="244.2" y="250.57" width="5.60" height="5.78" fill="#e3061f" stroke="#1a1038" stroke-width="0.55"/>
<rect x="236.9" y="256.35" width="5.80" height="5.78" fill="#2c30b8" stroke="#1a1038" stroke-width="0.55"/>
<rect x="244.2" y="256.35" width="5.60" height="5.78" fill="#e3061f" stroke="#1a1038" stroke-width="0.55"/>
<rect x="236.9" y="262.13" width="5.80" height="5.78" fill="#e3061f" stroke="#1a1038" stroke-width="0.55"/>
<rect x="244.2" y="262.13" width="5.60" height="5.78" fill="#2c30b8" stroke="#1a1038" stroke-width="0.55"/>
<rect x="236.9" y="267.91" width="5.80" height="5.78" fill="#e3061f" stroke="#1a1038" stroke-width="0.55"/>
<rect x="244.2" y="267.91" width="5.60" height="5.78" fill="#2c30b8" stroke="#1a1038" stroke-width="0.55"/>
<rect x="236.9" y="273.69" width="5.80" height="5.78" fill="#2c30b8" stroke="#1a1038" stroke-width="0.55"/>
<rect x="244.2" y="273.69" width="5.60" height="5.78" fill="#e3061f" stroke="#1a1038" stroke-width="0.55"/>
<rect x="236.9" y="279.47" width="5.80" height="5.78" fill="#e3061f" stroke="#1a1038" stroke-width="0.55"/>
<rect x="244.2" y="279.47" width="5.60" height="5.78" fill="#2c30b8" stroke="#1a1038" stroke-width="0.55"/>
<rect x="236.9" y="285.25" width="5.80" height="5.78" fill="#2c30b8" stroke="#1a1038" stroke-width="0.55"/>
<rect x="244.2" y="285.25" width="5.60" height="5.78" fill="#e3061f" stroke="#1a1038" stroke-width="0.55"/>
<rect x="236.9" y="291.03" width="5.80" height="5.78" fill="#e3061f" stroke="#1a1038" stroke-width="0.55"/>
<rect x="244.2" y="291.03" width="5.60" height="5.78" fill="#2c30b8" stroke="#1a1038" stroke-width="0.55"/>
<rect x="236.9" y="296.81" width="5.80" height="5.78" fill="#2c30b8" stroke="#1a1038" stroke-width="0.55"/>
<rect x="244.2" y="296.81" width="5.60" height="5.78" fill="#e3061f" stroke="#1a1038" stroke-width="0.55"/>
<rect x="236.9" y="302.59" width="5.80" height="5.78" fill="#2c30b8" stroke="#1a1038" stroke-width="0.55"/>
<rect x="244.2" y="302.59" width="5.60" height="5.78" fill="#e3061f" stroke="#1a1038" stroke-width="0.55"/>
<rect x="236.9" y="308.37" width="5.80" height="5.78" fill="#2c30b8" stroke="#1a1038" stroke-width="0.55"/>
<rect x="244.2" y="308.37" width="5.60" height="5.78" fill="#e3061f" stroke="#1a1038" stroke-width="0.55"/>
<rect x="236.9" y="314.15" width="5.80" height="5.78" fill="#2c30b8" stroke="#1a1038" stroke-width="0.55"/>
<rect x="244.2" y="314.15" width="5.60" height="5.78" fill="#e3061f" stroke="#1a1038" stroke-width="0.55"/>
<rect x="236.9" y="319.93" width="5.80" height="5.78" fill="#2c30b8" stroke="#1a1038" stroke-width="0.55"/>
<rect x="244.2" y="319.93" width="5.60" height="5.78" fill="#e3061f" stroke="#1a1038" stroke-width="0.55"/>
<rect x="236.9" y="325.71" width="5.80" height="5.78" fill="#2c30b8" stroke="#1a1038" stroke-width="0.55"/>
<rect x="244.2" y="325.71" width="5.60" height="5.78" fill="#e3061f" stroke="#1a1038" stroke-width="0.55"/>
<rect x="236.9" y="331.49" width="5.80" height="5.78" fill="#2c30b8" stroke="#1a1038" stroke-width="0.55"/>
<rect x="244.2" y="331.49" width="5.60" height="5.78" fill="#e3061f" stroke="#1a1038" stroke-width="0.55"/>
<rect x="236.9" y="337.27" width="5.80" height="5.78" fill="#e3061f" stroke="#1a1038" stroke-width="0.55"/>
<rect x="244.2" y="337.27" width="5.60" height="5.78" fill="#2c30b8" stroke="#1a1038" stroke-width="0.55"/>
<rect x="236.9" y="343.05" width="5.80" height="5.78" fill="#2c30b8" stroke="#1a1038" stroke-width="0.55"/>
<rect x="244.2" y="343.05" width="5.60" height="5.78" fill="#e3061f" stroke="#1a1038" stroke-width="0.55"/>
<rect x="236.9" y="348.83" width="5.80" height="5.78" fill="#2c30b8" stroke="#1a1038" stroke-width="0.55"/>
<rect x="244.2" y="348.83" width="5.60" height="5.78" fill="#e3061f" stroke="#1a1038" stroke-width="0.55"/>
<rect x="236.9" y="354.61" width="5.80" height="5.78" fill="#2c30b8" stroke="#1a1038" stroke-width="0.55"/>
<rect x="244.2" y="354.61" width="5.60" height="5.78" fill="#e3061f" stroke="#1a1038" stroke-width="0.55"/>
<rect x="236.9" y="360.39" width="5.80" height="5.78" fill="#2c30b8" stroke="#1a1038" stroke-width="0.55"/>
<rect x="244.2" y="360.39" width="5.60" height="5.78" fill="#e3061f" stroke="#1a1038" stroke-width="0.55"/>
<rect x="236.9" y="366.17" width="5.80" height="5.78" fill="#2c30b8" stroke="#1a1038" stroke-width="0.55"/>
<rect x="244.2" y="366.17" width="5.60" height="5.78" fill="#e3061f" stroke="#1a1038" stroke-width="0.55"/>
<rect x="236.9" y="371.95" width="5.80" height="5.78" fill="#e3061f" stroke="#1a1038" stroke-width="0.55"/>
<rect x="244.2" y="371.95" width="5.60" height="5.78" fill="#2c30b8" stroke="#1a1038" stroke-width="0.55"/>
<rect x="236.9" y="377.73" width="5.80" height="5.78" fill="#e3061f" stroke="#1a1038" stroke-width="0.55"/>
<rect x="244.2" y="377.73" width="5.60" height="5.78" fill="#2c30b8" stroke="#1a1038" stroke-width="0.55"/>
<rect x="236.9" y="383.51" width="5.80" height="5.78" fill="#2c30b8" stroke="#1a1038" stroke-width="0.55"/>
<rect x="244.2" y="383.51" width="5.60" height="5.78" fill="#e3061f" stroke="#1a1038" stroke-width="0.55"/>
<rect x="236.9" y="389.29" width="5.80" height="5.78" fill="#2c30b8" stroke="#1a1038" stroke-width="0.55"/>
<rect x="244.2" y="389.29" width="5.60" height="5.78" fill="#e3061f" stroke="#1a1038" stroke-width="0.55"/>
<rect x="236.9" y="395.07" width="5.80" height="5.78" fill="#2c30b8" stroke="#1a1038" stroke-width="0.55"/>
<rect x="244.2" y="395.07" width="5.60" height="5.78" fill="#e3061f" stroke="#1a1038" stroke-width="0.55"/>
<rect x="236.9" y="400.85" width="5.80" height="5.78" fill="#2c30b8" stroke="#1a1038" stroke-width="0.55"/>
<rect x="244.2" y="400.85" width="5.60" height="5.78" fill="#e3061f" stroke="#1a1038" stroke-width="0.55"/>
<rect x="236.9" y="406.63" width="5.80" height="5.78" fill="#2c30b8" stroke="#1a1038" stroke-width="0.55"/>
<rect x="244.2" y="406.63" width="5.60" height="5.78" fill="#e3061f" stroke="#1a1038" stroke-width="0.55"/>
<text x="237.80" y="236.30" font-size="7.4" font-weight="bold" text-anchor="start" fill="#000" textLength="12.80" lengthAdjust="spacingAndGlyphs" transform="rotate(-44 237.80 236.30)" stroke="#000" stroke-width="0.35">WH</text>
<text x="249.80" y="236.00" font-size="7.4" font-weight="bold" text-anchor="start" fill="#000" textLength="11.60" lengthAdjust="spacingAndGlyphs" transform="rotate(-44 249.80 236.00)" stroke="#000" stroke-width="0.35">WL</text>
<text x="251.70" y="287.80" font-size="8.2" font-weight="bold" text-anchor="start" fill="#000" textLength="16.70" lengthAdjust="spacingAndGlyphs" stroke="#000" stroke-width="0.2">High</text>
<rect x="261.0" y="294" width="4.40" height="64.00" fill="url(#cbgrad)"/>
<text x="253.20" y="366.20" font-size="8.2" font-weight="bold" text-anchor="start" fill="#000" textLength="15.20" lengthAdjust="spacingAndGlyphs" stroke="#000" stroke-width="0.2">Low</text>
<text x="103.80" y="443.60" font-size="13.0" font-weight="bold" text-anchor="start" fill="#000" textLength="57.10" lengthAdjust="spacingAndGlyphs" stroke="#000" stroke-width="0.3">VIP scores</text>
<line x1="329.0" y1="247.40" x2="507.1" y2="247.40" stroke="#e8e8e8" stroke-width="1.3"/>
<line x1="329.0" y1="260.09" x2="507.1" y2="260.09" stroke="#e8e8e8" stroke-width="1.3"/>
<line x1="329.0" y1="272.78" x2="507.1" y2="272.78" stroke="#e8e8e8" stroke-width="1.3"/>
<line x1="329.0" y1="285.47" x2="507.1" y2="285.47" stroke="#e8e8e8" stroke-width="1.3"/>
<line x1="329.0" y1="298.16" x2="507.1" y2="298.16" stroke="#e8e8e8" stroke-width="1.3"/>
<line x1="329.0" y1="310.85" x2="507.1" y2="310.85" stroke="#e8e8e8" stroke-width="1.3"/>
<line x1="329.0" y1="323.54" x2="507.1" y2="323.54" stroke="#e8e8e8" stroke-width="1.3"/>
<line x1="329.0" y1="336.23" x2="507.1" y2="336.23" stroke="#e8e8e8" stroke-width="1.3"/>
<line x1="329.0" y1="348.92" x2="507.1" y2="348.92" stroke="#e8e8e8" stroke-width="1.3"/>
<line x1="329.0" y1="361.61" x2="507.1" y2="361.61" stroke="#e8e8e8" stroke-width="1.3"/>
<line x1="329.0" y1="374.30" x2="507.1" y2="374.30" stroke="#e8e8e8" stroke-width="1.3"/>
<line x1="329.0" y1="386.99" x2="507.1" y2="386.99" stroke="#e8e8e8" stroke-width="1.3"/>
<line x1="329.0" y1="399.68" x2="507.1" y2="399.68" stroke="#e8e8e8" stroke-width="1.3"/>
<circle cx="500.40" cy="247.40" r="1.6" fill="#4a4a4a" stroke="#222" stroke-width="0.9" filter="url(#soft)"/>
<circle cx="433.70" cy="260.09" r="1.6" fill="#4a4a4a" stroke="#222" stroke-width="0.9" filter="url(#soft)"/>
<circle cx="406.70" cy="272.78" r="1.6" fill="#4a4a4a" stroke="#222" stroke-width="0.9" filter="url(#soft)"/>
<circle cx="394.60" cy="285.47" r="1.6" fill="#4a4a4a" stroke="#222" stroke-width="0.9" filter="url(#soft)"/>
<circle cx="376.40" cy="298.16" r="1.6" fill="#4a4a4a" stroke="#222" stroke-width="0.9" filter="url(#soft)"/>
<circle cx="370.00" cy="310.85" r="1.6" fill="#4a4a4a" stroke="#222" stroke-width="0.9" filter="url(#soft)"/>
<circle cx="359.20" cy="323.54" r="1.6" fill="#4a4a4a" stroke="#222" stroke-width="0.9" filter="url(#soft)"/>
<circle cx="354.60" cy="336.23" r="1.6" fill="#4a4a4a" stroke="#222" stroke-width="0.9" filter="url(#soft)"/>
<circle cx="354.30" cy="348.92" r="1.6" fill="#4a4a4a" stroke="#222" stroke-width="0.9" filter="url(#soft)"/>
<circle cx="346.10" cy="361.61" r="1.6" fill="#4a4a4a" stroke="#222" stroke-width="0.9" filter="url(#soft)"/>
<circle cx="341.60" cy="374.30" r="1.6" fill="#4a4a4a" stroke="#222" stroke-width="0.9" filter="url(#soft)"/>
<circle cx="340.50" cy="386.99" r="1.6" fill="#4a4a4a" stroke="#222" stroke-width="0.9" filter="url(#soft)"/>
<circle cx="335.50" cy="399.68" r="1.6" fill="#4a4a4a" stroke="#222" stroke-width="0.9" filter="url(#soft)"/>
<rect x="329.0" y="234.7" width="178.10" height="177.10" fill="none" stroke="#9a9a9a" stroke-width="1.4"/>
<line x1="333.00" y1="411.8" x2="333.00" y2="415.6" stroke="#666" stroke-width="0.9"/>
<text x="328.65" y="426.80" font-size="6.4" font-weight="normal" text-anchor="start" fill="#333" textLength="8.70" lengthAdjust="spacingAndGlyphs" transform="rotate(0.05 328.65 426.80)" stroke="#333" stroke-width="0.15">2.0</text>
<line x1="360.73" y1="411.8" x2="360.73" y2="415.6" stroke="#666" stroke-width="0.9"/>
<text x="356.38" y="426.80" font-size="6.4" font-weight="normal" text-anchor="start" fill="#333" textLength="8.70" lengthAdjust="spacingAndGlyphs" transform="rotate(0.05 356.38 426.80)" stroke="#333" stroke-width="0.15">2.5</text>
<line x1="388.45" y1="411.8" x2="388.45" y2="415.6" stroke="#666" stroke-width="0.9"/>
<text x="384.10" y="426.80" font-size="6.4" font-weight="normal" text-anchor="start" fill="#333" textLength="8.70" lengthAdjust="spacingAndGlyphs" transform="rotate(0.05 384.10 426.80)" stroke="#333" stroke-width="0.15">3.0</text>
<line x1="416.18" y1="411.8" x2="416.18" y2="415.6" stroke="#666" stroke-width="0.9"/>
<text x="411.82" y="426.80" font-size="6.4" font-weight="normal" text-anchor="start" fill="#333" textLength="8.70" lengthAdjust="spacingAndGlyphs" transform="rotate(0.05 411.82 426.80)" stroke="#333" stroke-width="0.15">3.5</text>
<line x1="443.90" y1="411.8" x2="443.90" y2="415.6" stroke="#666" stroke-width="0.9"/>
<text x="439.55" y="426.80" font-size="6.4" font-weight="normal" text-anchor="start" fill="#333" textLength="8.70" lengthAdjust="spacingAndGlyphs" transform="rotate(0.05 439.55 426.80)" stroke="#333" stroke-width="0.15">4.0</text>
<line x1="471.62" y1="411.8" x2="471.62" y2="415.6" stroke="#666" stroke-width="0.9"/>
<text x="467.27" y="426.80" font-size="6.4" font-weight="normal" text-anchor="start" fill="#333" textLength="8.70" lengthAdjust="spacingAndGlyphs" transform="rotate(0.05 467.27 426.80)" stroke="#333" stroke-width="0.15">4.5</text>
<line x1="499.35" y1="411.8" x2="499.35" y2="415.6" stroke="#666" stroke-width="0.9"/>
<text x="495.00" y="426.80" font-size="6.4" font-weight="normal" text-anchor="start" fill="#333" textLength="8.70" lengthAdjust="spacingAndGlyphs" transform="rotate(0.05 495.00 426.80)" stroke="#333" stroke-width="0.15">5.0</text>
<text x="321.00" y="249.20" font-size="5.0" font-weight="normal" text-anchor="end" fill="#333" transform="rotate(0.05 321.00 249.20)" stroke="#333" stroke-width="0.12">M157T603</text>
<text x="321.00" y="261.89" font-size="5.0" font-weight="normal" text-anchor="end" fill="#333" transform="rotate(0.05 321.00 261.89)" stroke="#333" stroke-width="0.12">M391T154</text>
<text x="321.00" y="274.58" font-size="5.0" font-weight="normal" text-anchor="end" fill="#333" transform="rotate(0.05 321.00 274.58)" stroke="#333" stroke-width="0.12">M355T118</text>
<text x="321.00" y="287.27" font-size="5.0" font-weight="normal" text-anchor="end" fill="#333" transform="rotate(0.05 321.00 287.27)" stroke="#333" stroke-width="0.12">M141T350_2</text>
<text x="321.00" y="299.96" font-size="5.0" font-weight="normal" text-anchor="end" fill="#333" transform="rotate(0.05 321.00 299.96)" stroke="#333" stroke-width="0.12">M583T30</text>
<text x="321.00" y="312.65" font-size="5.0" font-weight="normal" text-anchor="end" fill="#333" transform="rotate(0.05 321.00 312.65)" stroke="#333" stroke-width="0.12">M188T37</text>
<text x="321.00" y="325.34" font-size="5.0" font-weight="normal" text-anchor="end" fill="#333" transform="rotate(0.05 321.00 325.34)" stroke="#333" stroke-width="0.12">M914T185</text>
<text x="321.00" y="338.03" font-size="5.0" font-weight="normal" text-anchor="end" fill="#333" transform="rotate(0.05 321.00 338.03)" stroke="#333" stroke-width="0.12">M341T43</text>
<text x="321.00" y="350.72" font-size="5.0" font-weight="normal" text-anchor="end" fill="#333" transform="rotate(0.05 321.00 350.72)" stroke="#333" stroke-width="0.12">M191T574</text>
<text x="321.00" y="363.41" font-size="5.0" font-weight="normal" text-anchor="end" fill="#333" transform="rotate(0.05 321.00 363.41)" stroke="#333" stroke-width="0.12">M199T51</text>
<text x="321.00" y="376.10" font-size="5.0" font-weight="normal" text-anchor="end" fill="#333" transform="rotate(0.05 321.00 376.10)" stroke="#333" stroke-width="0.12">M195T51</text>
<text x="321.00" y="388.79" font-size="5.0" font-weight="normal" text-anchor="end" fill="#333" transform="rotate(0.05 321.00 388.79)" stroke="#333" stroke-width="0.12">M229T305</text>
<text x="321.00" y="401.48" font-size="5.0" font-weight="normal" text-anchor="end" fill="#333" transform="rotate(0.05 321.00 401.48)" stroke="#333" stroke-width="0.12">M464T180</text>
<rect x="513.0" y="244.30" width="5.95" height="6.20" fill="#e3061f" stroke="#1a1038" stroke-width="0.55"/>
<rect x="520.15" y="244.30" width="6.05" height="6.20" fill="#2c30b8" stroke="#1a1038" stroke-width="0.55"/>
<rect x="513.0" y="256.99" width="5.95" height="6.20" fill="#2c30b8" stroke="#1a1038" stroke-width="0.55"/>
<rect x="520.15" y="256.99" width="6.05" height="6.20" fill="#e3061f" stroke="#1a1038" stroke-width="0.55"/>
<rect x="513.0" y="269.68" width="5.95" height="6.20" fill="#2c30b8" stroke="#1a1038" stroke-width="0.55"/>
<rect x="520.15" y="269.68" width="6.05" height="6.20" fill="#e3061f" stroke="#1a1038" stroke-width="0.55"/>
<rect x="513.0" y="282.37" width="5.95" height="6.20" fill="#2c30b8" stroke="#1a1038" stroke-width="0.55"/>
<rect x="520.15" y="282.37" width="6.05" height="6.20" fill="#e3061f" stroke="#1a1038" stroke-width="0.55"/>
<rect x="513.0" y="295.06" width="5.95" height="6.20" fill="#2c30b8" stroke="#1a1038" stroke-width="0.55"/>
<rect x="520.15" y="295.06" width="6.05" height="6.20" fill="#e3061f" stroke="#1a1038" stroke-width="0.55"/>
<rect x="513.0" y="307.75" width="5.95" height="6.20" fill="#2c30b8" stroke="#1a1038" stroke-width="0.55"/>
<rect x="520.15" y="307.75" width="6.05" height="6.20" fill="#e3061f" stroke="#1a1038" stroke-width="0.55"/>
<rect x="513.0" y="320.44" width="5.95" height="6.20" fill="#2c30b8" stroke="#1a1038" stroke-width="0.55"/>
<rect x="520.15" y="320.44" width="6.05" height="6.20" fill="#e3061f" stroke="#1a1038" stroke-width="0.55"/>
<rect x="513.0" y="333.13" width="5.95" height="6.20" fill="#2c30b8" stroke="#1a1038" stroke-width="0.55"/>
<rect x="520.15" y="333.13" width="6.05" height="6.20" fill="#e3061f" stroke="#1a1038" stroke-width="0.55"/>
<rect x="513.0" y="345.82" width="5.95" height="6.20" fill="#e3061f" stroke="#1a1038" stroke-width="0.55"/>
<rect x="520.15" y="345.82" width="6.05" height="6.20" fill="#2c30b8" stroke="#1a1038" stroke-width="0.55"/>
<rect x="513.0" y="358.51" width="5.95" height="6.20" fill="#e3061f" stroke="#1a1038" stroke-width="0.55"/>
<rect x="520.15" y="358.51" width="6.05" height="6.20" fill="#2c30b8" stroke="#1a1038" stroke-width="0.55"/>
<rect x="513.0" y="371.20" width="5.95" height="6.20" fill="#e3061f" stroke="#1a1038" stroke-width="0.55"/>
<rect x="520.15" y="371.20" width="6.05" height="6.20" fill="#2c30b8" stroke="#1a1038" stroke-width="0.55"/>
<rect x="513.0" y="383.89" width="5.95" height="6.20" fill="#2c30b8" stroke="#1a1038" stroke-width="0.55"/>
<rect x="520.15" y="383.89" width="6.05" height="6.20" fill="#e3061f" stroke="#1a1038" stroke-width="0.55"/>
<rect x="513.0" y="396.58" width="5.95" height="6.20" fill="#2c30b8" stroke="#1a1038" stroke-width="0.55"/>
<rect x="520.15" y="396.58" width="6.05" height="6.20" fill="#e3061f" stroke="#1a1038" stroke-width="0.55"/>
<text x="514.40" y="240.60" font-size="7.4" font-weight="bold" text-anchor="start" fill="#000" textLength="12.20" lengthAdjust="spacingAndGlyphs" transform="rotate(-44 514.40 240.60)" stroke="#000" stroke-width="0.35">WH</text>
<text x="526.60" y="240.80" font-size="7.4" font-weight="bold" text-anchor="start" fill="#000" textLength="11.40" lengthAdjust="spacingAndGlyphs" transform="rotate(-44 526.60 240.80)" stroke="#000" stroke-width="0.35">WL</text>
<text x="528.40" y="285.00" font-size="8.2" font-weight="bold" text-anchor="start" fill="#000" textLength="17.00" lengthAdjust="spacingAndGlyphs" stroke="#000" stroke-width="0.2">High</text>
<rect x="537.5" y="292" width="4.20" height="62.00" fill="url(#cbgrad)"/>
<text x="530.00" y="364.60" font-size="8.2" font-weight="bold" text-anchor="start" fill="#000" textLength="15.50" lengthAdjust="spacingAndGlyphs" stroke="#000" stroke-width="0.2">Low</text>
<text x="396.30" y="444.20" font-size="13.0" font-weight="bold" text-anchor="start" fill="#000" textLength="57.70" lengthAdjust="spacingAndGlyphs" stroke="#000" stroke-width="0.3">VIP scores</text>
</svg>
</body></html>
